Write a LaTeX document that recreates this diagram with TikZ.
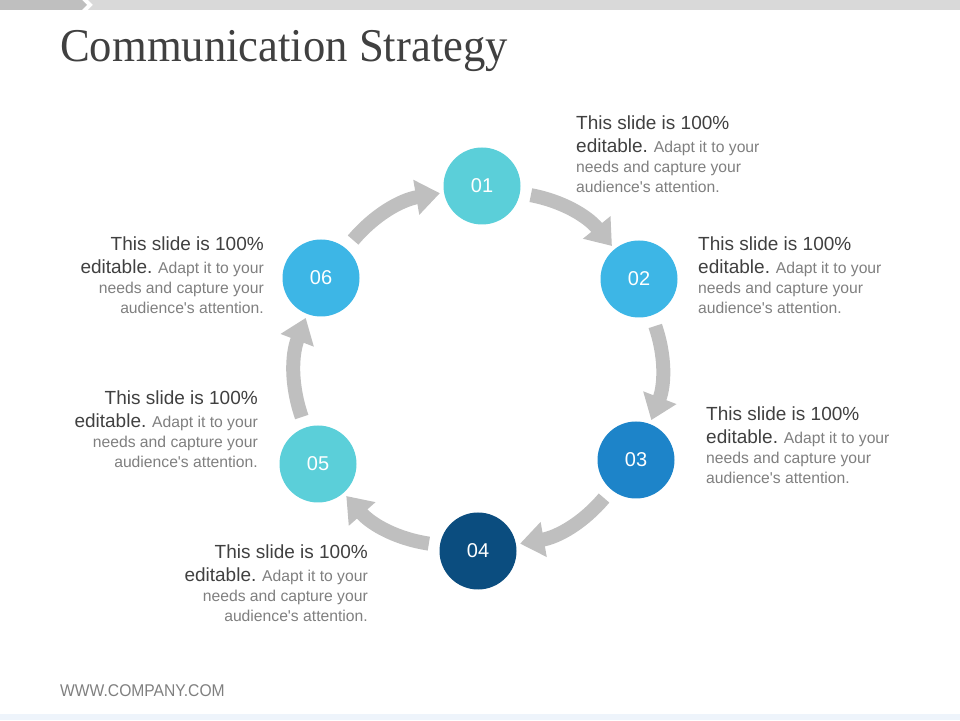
\documentclass[tikz,border=0pt]{standalone}
\usepackage{fontspec}
\setmainfont{Liberation Sans}[Ligatures=TeXOff]
\newfontfamily\titlefont{Liberation Serif}
\usepackage{xcolor}
\usetikzlibrary{arrows.meta, positioning}

\definecolor{turq}{HTML}{5BCFD9}
\definecolor{sky}{HTML}{3DB6E6}
\definecolor{midblue}{HTML}{1D84C9}
\definecolor{navy}{HTML}{0B4D7F}
\definecolor{arrowgray}{HTML}{BFBFBF}
\definecolor{headgray}{HTML}{404040}
\definecolor{bodygray}{HTML}{7F7F7F}
\definecolor{bardark}{HTML}{BFBFBF}
\definecolor{barlight}{HTML}{D9D9D9}
\definecolor{footband}{HTML}{EEF4FB}

\newcommand{\hdr}{\fontsize{19}{20}\selectfont\color{headgray}}
\newcommand{\blurb}{{\hdr This slide is 100\%}\\[3pt]{\hdr editable.} Adapt it to your\\needs and capture your\\audience's attention.}

\begin{document}
\begin{tikzpicture}[x=1pt, y=1pt,
        stage/.style={circle, minimum size=77pt, inner sep=0pt, text=white,
            font=\fontsize{20}{24}\selectfont},
        flow/.style={draw=arrowgray, line width=14pt,
            -{Triangle[length=24pt, width=34pt]}, shorten <=11pt, shorten >=4pt},
        blurbtext/.style={inner sep=0pt, text=bodygray,
            font=\fontsize{15.7}{20}\selectfont}]
        \useasboundingbox (0, 0) rectangle (960, 720);

        % top bar and bottom band
        \fill[bardark] (0, 720) -- (82, 720) -- (87, 715) -- (82, 710) -- (0, 710) -- cycle;
        \fill[barlight] (88, 720) -- (960, 720) -- (960, 710) -- (88, 710) -- (93, 715) -- cycle;
        \fill[footband] (0, 0) rectangle (960, 6);

        \node[anchor=base west, inner sep=0pt, text=headgray] (title) at (60, 658)
            {\scalebox{0.95}[1]{\titlefont\fontsize{47}{50}\selectfont Communication Strategy}};
        \node[anchor=base west, inner sep=0pt, text=bodygray] (web) at (60, 24)
            {\scalebox{0.92}[1]{\fontsize{17}{20}\selectfont WWW.COMPANY.COM}};

        \node[stage, fill=turq] (s1) at (482, 534) {01};
        \node[stage, fill=sky] (s2) at (639, 441) {02};
        \node[stage, fill=midblue] (s3) at (636, 260) {03};
        \node[stage, fill=navy] (s4) at (478, 169) {04};
        \node[stage, fill=turq] (s5) at (318, 256) {05};
        \node[stage, fill=sky] (s6) at (321, 442) {06};

        \draw[flow] (s1) to[bend left=20] (s2);
        \draw[flow] (s2) to[bend left=20] (s3);
        \draw[flow] (s3) to[bend left=20] (s4);
        \draw[flow] (s4) to[bend left=20] (s5);
        \draw[flow] (s5) to[bend left=20] (s6);
        \draw[flow] (s6) to[bend left=20] (s1);

        \node[blurbtext, align=left, anchor=north west] (t1) at (576, 604) {\blurb};
        \node[blurbtext, align=left, anchor=north west] (t2) at (698, 483) {\blurb};
        \node[blurbtext, align=left, anchor=north west] (t3) at (706, 313) {\blurb};
        \node[blurbtext, align=right, anchor=north east] (t4) at (368, 175) {\blurb};
        \node[blurbtext, align=right, anchor=north east] (t5) at (258, 329) {\blurb};
        \node[blurbtext, align=right, anchor=north east] (t6) at (264, 483) {\blurb};
\end{tikzpicture}
\end{document}
